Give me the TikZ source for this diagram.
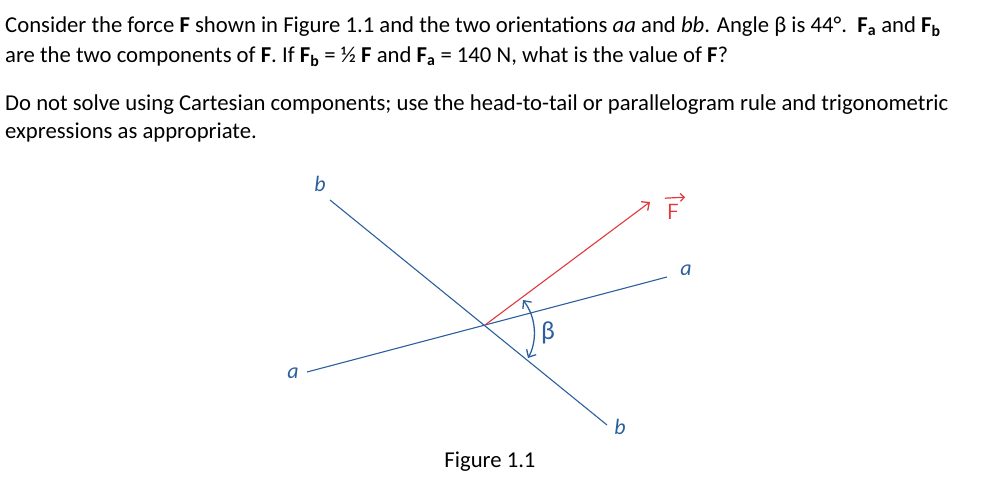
\documentclass[tikz,border=0pt]{standalone}
\usepackage{fontspec}
\setmainfont{Carlito}
\usetikzlibrary{arrows.meta}
\definecolor{penblue}{RGB}{43,95,158}
\definecolor{penred}{RGB}{224,56,60}
\newcommand{\bF}{\textbf{F}}
\newcommand{\bFsub}[1]{\textbf{F}\textsubscript{\textbf{#1}}}
\begin{document}
\begin{tikzpicture}[x=1pt,y=-1pt,
    txt/.style={anchor=base west, inner sep=0pt, font=\fontsize{22.7}{26}\selectfont},
    orient/.style={penblue, line width=1.1pt},
    hand/.style={font=\fontsize{22}{24}\selectfont\itshape, inner sep=1pt, penblue},
    barb/.tip={Straight Barb[length=6pt,width=11pt,line width=1.3pt]},
  ]
  \useasboundingbox (0,0) rectangle (986,482);

  % question
  \node[txt] (l1) at (5,32) {Consider the force \bF{} shown in Figure 1.1 and the two orientations \textit{aa} and \textit{bb}. Angle β is 44°.\ \ \bFsub{a} and \bFsub{b}};
  \node[txt] (l2) at (5,62) {are the two components of \bF. If \bFsub{b} = ½ \bF{} and \bFsub{a} = 140 N, what is the value of \bF?};
  \node[txt] (l3) at (5,110) {Do not solve using Cartesian components; use the head-to-tail or parallelogram rule and trigonometric};
  \node[txt] (l4) at (5,138) {expressions as appropriate.};

  % orientations
  \coordinate (o) at (485,325);
  \coordinate (bt) at (330,200);
  \coordinate (bb) at (607,425);
  \coordinate (al) at (307,372);
  \coordinate (ar) at (667,277);
  \coordinate (ftip) at (650,202);
  \draw[orient] (bt) -- (bb);
  \draw[orient] (al) -- (ar);

  \node[hand] (lbt) at (320,184) {b};
  \node[hand] (lbb) at (620,427) {b};
  \node[hand] (lal) at (293,373) {a};
  \node[hand] (lar) at (686,270) {a};

  % force
  \draw[penred, line width=1.1pt, -barb] (o) -- (ftip);
  \node[penred, inner sep=0pt, font=\fontsize{22}{24}\selectfont\sffamily] (lf) at (673,212) {F};
  \draw[penred, line width=1.2pt, -{Straight Barb[length=4pt,width=8pt]}]
    ([xshift=-2pt,yshift=6pt]lf.north west) -- ([xshift=6pt,yshift=7pt]lf.north east);

  % angle beta
  \coordinate (p1) at (523,300);
  \coordinate (p2) at (528,358);
  \draw[penblue, line width=1.3pt, barb-barb]
    (p1) .. controls (537,318) and (537,342) .. (p2);
  \node[penblue, inner sep=0pt, font=\fontsize{26}{28}\selectfont] (lbeta) at (548,333) {β};

  \node[txt, anchor=base] (cap) at (490,467) {Figure 1.1};
\end{tikzpicture}
\end{document}
